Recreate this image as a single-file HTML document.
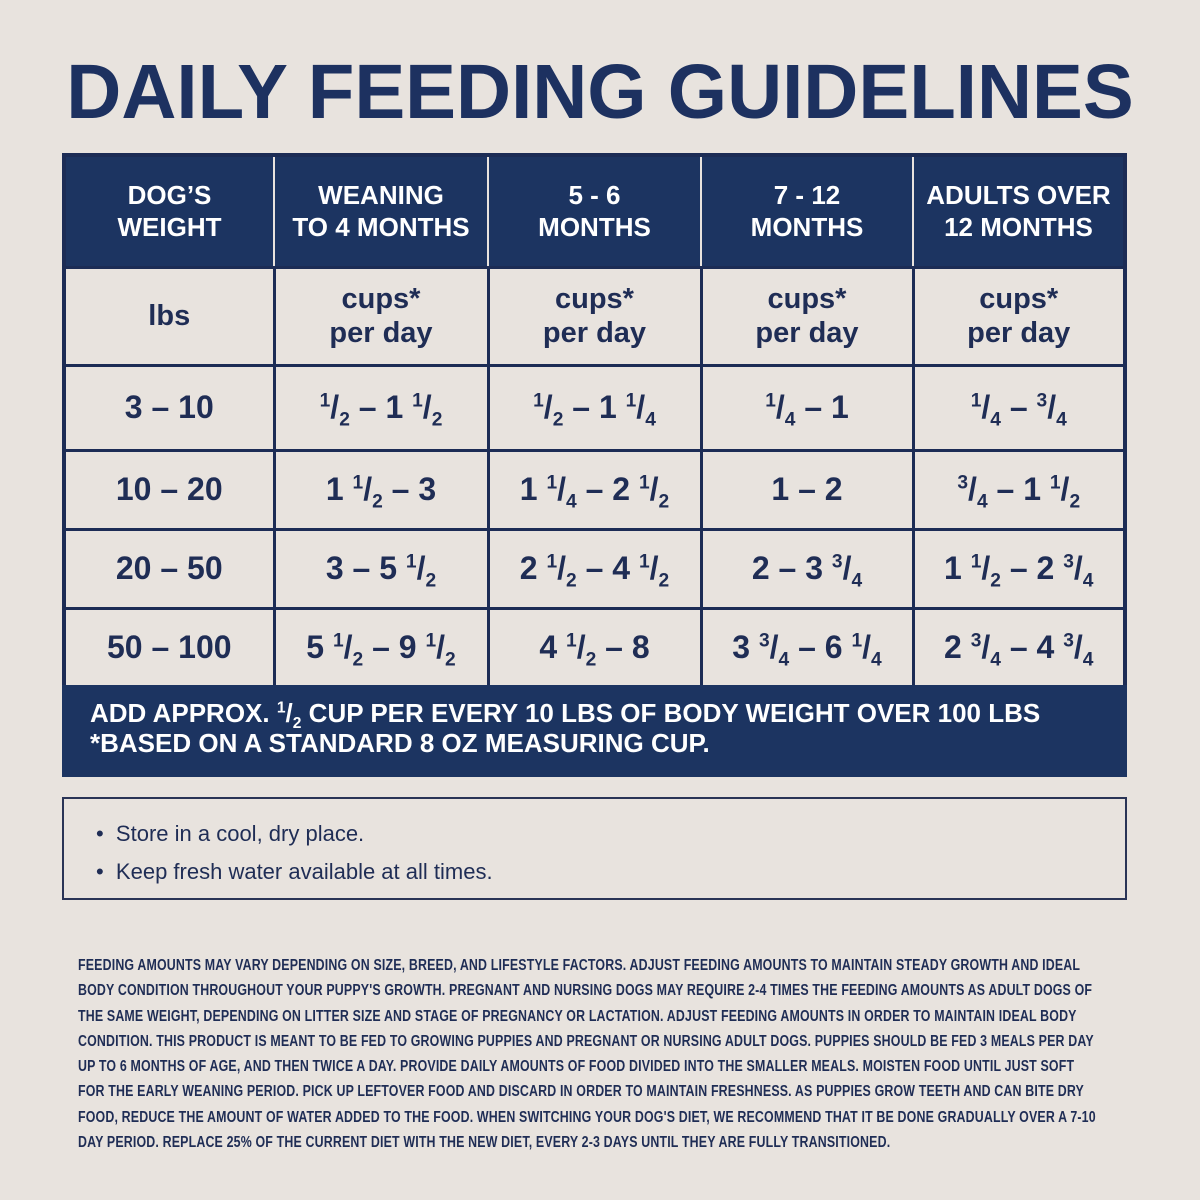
<!DOCTYPE html>
<html><head><meta charset="utf-8"><style>
*{margin:0;padding:0;box-sizing:border-box}
body{width:1200px;height:1200px;background:#e8e3de;font-family:"Liberation Sans",sans-serif;color:#1d2b55;position:relative;overflow:hidden}
.title{position:absolute;left:0;top:52px;width:1200px;text-align:center;font-weight:bold;font-size:77px;letter-spacing:0px;color:#1d3160;line-height:80px;transform:scaleX(0.99)}
table{position:absolute;left:62px;top:153px;width:1065px;border-collapse:collapse;border:4px solid #1c2c55}
td{text-align:center;font-weight:bold;border:3px solid #1c2c55;font-size:32px;color:#1f2d55}
tr.h td{background:#1c3461;color:#fff;font-size:26px;line-height:32px;height:112px;border-left:2px solid #e8e3de;border-right:2px solid #e8e3de;border-top:none;border-bottom:none}
tr.h td:first-child{border-left:none}
tr.h td:last-child{border-right:none}
tr.u td{height:98px;font-size:29px;line-height:34px}
tr.r1 td{height:85px}
tr.r td{height:79px}
.foot{position:absolute;left:62px;top:685px;width:1065px;height:92px;background:#1c3461;color:#fff;font-weight:bold;font-size:26px;line-height:30px;padding:13px 0 0 28px;white-space:nowrap}
.box{position:absolute;left:62px;top:797px;width:1065px;height:103px;border:2px solid #2a3456;padding:16px 0 0 32px;font-size:22px;line-height:38px;color:#1f2d55}
.para{position:absolute;left:78px;top:953px;font-size:15.5px;line-height:25.3px;font-weight:bold;color:#1f2d55;transform:scaleX(0.8);transform-origin:left;white-space:nowrap;letter-spacing:0.2px}
sup,sub{font-size:60%;line-height:0}
</style></head><body>
<div class="title">DAILY FEEDING GUIDELINES</div>
<table>
<tr class="h"><td style="width:210px">DOG’S<br>WEIGHT</td><td style="width:214px">WEANING<br>TO 4 MONTHS</td><td style="width:213px">5 - 6<br>MONTHS</td><td style="width:212px">7 - 12<br>MONTHS</td><td>ADULTS OVER<br>12 MONTHS</td></tr>
<tr class="u"><td>lbs</td><td>cups*<br>per day</td><td>cups*<br>per day</td><td>cups*<br>per day</td><td>cups*<br>per day</td></tr>
<tr class="r1"><td>3 – 10</td><td><sup>1</sup>/<sub>2</sub> – 1 <sup>1</sup>/<sub>2</sub></td><td><sup>1</sup>/<sub>2</sub> – 1 <sup>1</sup>/<sub>4</sub></td><td><sup>1</sup>/<sub>4</sub> – 1</td><td><sup>1</sup>/<sub>4</sub> – <sup>3</sup>/<sub>4</sub></td></tr>
<tr class="r"><td>10 – 20</td><td>1 <sup>1</sup>/<sub>2</sub> – 3</td><td>1 <sup>1</sup>/<sub>4</sub> – 2 <sup>1</sup>/<sub>2</sub></td><td>1 – 2</td><td><sup>3</sup>/<sub>4</sub> – 1 <sup>1</sup>/<sub>2</sub></td></tr>
<tr class="r"><td>20 – 50</td><td>3 – 5 <sup>1</sup>/<sub>2</sub></td><td>2 <sup>1</sup>/<sub>2</sub> – 4 <sup>1</sup>/<sub>2</sub></td><td>2 – 3 <sup>3</sup>/<sub>4</sub></td><td>1 <sup>1</sup>/<sub>2</sub> – 2 <sup>3</sup>/<sub>4</sub></td></tr>
<tr class="r"><td>50 – 100</td><td>5 <sup>1</sup>/<sub>2</sub> – 9 <sup>1</sup>/<sub>2</sub></td><td>4 <sup>1</sup>/<sub>2</sub> – 8</td><td>3 <sup>3</sup>/<sub>4</sub> – 6 <sup>1</sup>/<sub>4</sub></td><td>2 <sup>3</sup>/<sub>4</sub> – 4 <sup>3</sup>/<sub>4</sub></td></tr>
</table>
<div class="foot">ADD APPROX. <sup>1</sup>/<sub>2</sub> CUP PER EVERY 10 LBS OF BODY WEIGHT OVER 100 LBS<br>*BASED ON A STANDARD 8 OZ MEASURING CUP.</div>
<div class="box">• &nbsp;Store in a cool, dry place.<br>• &nbsp;Keep fresh water available at all times.</div>
<div class="para">FEEDING AMOUNTS MAY VARY DEPENDING ON SIZE, BREED, AND LIFESTYLE FACTORS. ADJUST FEEDING AMOUNTS TO MAINTAIN STEADY GROWTH AND IDEAL<br>BODY CONDITION THROUGHOUT YOUR PUPPY'S GROWTH. PREGNANT AND NURSING DOGS MAY REQUIRE 2-4 TIMES THE FEEDING AMOUNTS AS ADULT DOGS OF<br>THE SAME WEIGHT, DEPENDING ON LITTER SIZE AND STAGE OF PREGNANCY OR LACTATION. ADJUST FEEDING AMOUNTS IN ORDER TO MAINTAIN IDEAL BODY<br>CONDITION. THIS PRODUCT IS MEANT TO BE FED TO GROWING PUPPIES AND PREGNANT OR NURSING ADULT DOGS. PUPPIES SHOULD BE FED 3 MEALS PER DAY<br>UP TO 6 MONTHS OF AGE, AND THEN TWICE A DAY. PROVIDE DAILY AMOUNTS OF FOOD DIVIDED INTO THE SMALLER MEALS. MOISTEN FOOD UNTIL JUST SOFT<br>FOR THE EARLY WEANING PERIOD. PICK UP LEFTOVER FOOD AND DISCARD IN ORDER TO MAINTAIN FRESHNESS. AS PUPPIES GROW TEETH AND CAN BITE DRY<br>FOOD, REDUCE THE AMOUNT OF WATER ADDED TO THE FOOD. WHEN SWITCHING YOUR DOG'S DIET, WE RECOMMEND THAT IT BE DONE GRADUALLY OVER A 7-10<br>DAY PERIOD. REPLACE 25% OF THE CURRENT DIET WITH THE NEW DIET, EVERY 2-3 DAYS UNTIL THEY ARE FULLY TRANSITIONED.</div>
</body></html>
